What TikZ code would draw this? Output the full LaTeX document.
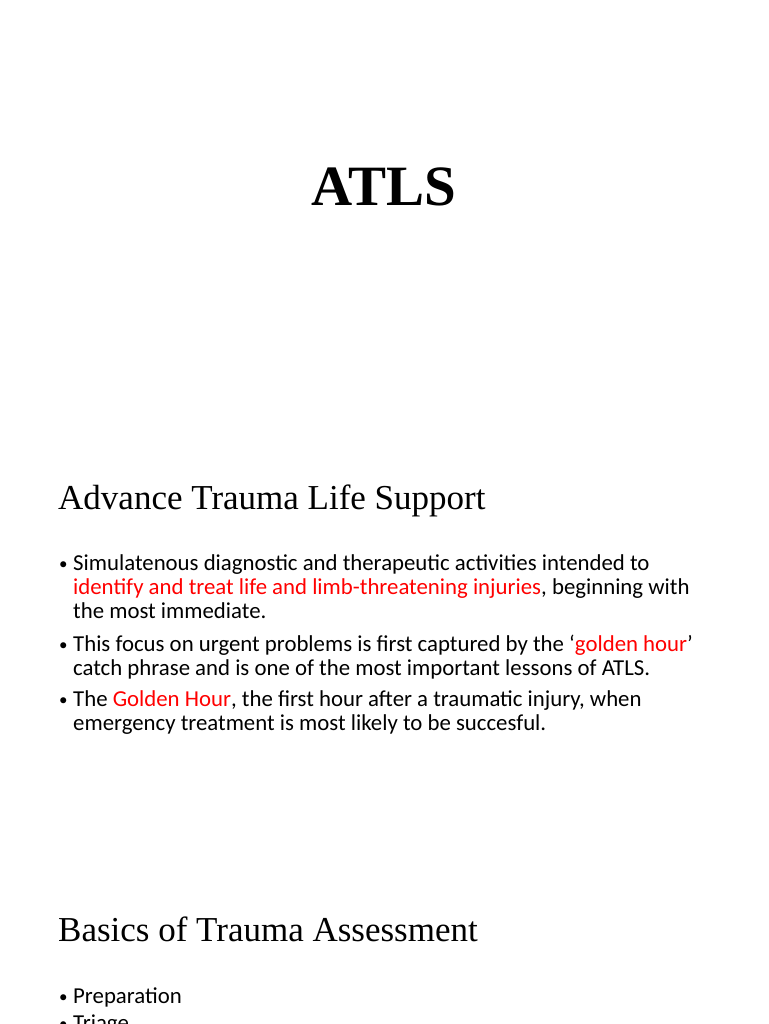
\documentclass[tikz,border=0pt]{standalone}
\usepackage{fontspec}
\setmainfont{Liberation Serif}
\newfontfamily\bodyfont{Carlito}
\definecolor{HiRed}{HTML}{FF0000}
\tikzset{
    heading/.style={anchor=base west, inner sep=0pt, font=\fontsize{35}{42}\selectfont},
    bodyline/.style={anchor=base west, inner sep=0pt, font=\bodyfont\fontsize{22.8}{27}\selectfont},
    bulletmark/.style={anchor=base west, inner sep=0pt, font=\bodyfont\fontsize{17}{20}\selectfont}
}
\newcommand{\hi}[1]{\textcolor{HiRed}{#1}}
\begin{document}
\begin{tikzpicture}[x=1pt, y=-1pt]
    % page
    \useasboundingbox (0,0) rectangle (768,1024);
    \clip (0,0) rectangle (768,1024);
    \fill[white] (0,0) rectangle (768,1024);

    % title
    \node[anchor=base, inner sep=0pt, font=\bfseries\fontsize{57}{66}\selectfont] (title) at (384,206) {ATLS};

    % section 1
    \node[heading] (head1) at (58,509) {Advance Trauma Life Support};
    \node[bulletmark] (b1) at (59,569) {•};
    \node[bodyline] (l1) at (73,570) {Simulatenous diagnostic and therapeutic activities intended to};
    \node[bodyline] (l2) at (73,594) {\hi{identify and treat life and limb-threatening injuries}, beginning with};
    \node[bodyline] (l3) at (73,618) {the most immediate.};
    \node[bulletmark] (b2) at (59,650) {•};
    \node[bodyline] (l4) at (73,651) {This focus on urgent problems is first captured by the ‘\hi{golden hour}’};
    \node[bodyline] (l5) at (73,675) {catch phrase and is one of the most important lessons of ATLS.};
    \node[bulletmark] (b3) at (59,705) {•};
    \node[bodyline] (l6) at (73,706) {The \hi{Golden Hour}, the first hour after a traumatic injury, when};
    \node[bodyline] (l7) at (73,730) {emergency treatment is most likely to be succesful.};

    % section 2
    \node[heading] (head2) at (58,941) {Basics of Trauma Assessment};
    \node[bulletmark] (b4) at (59,1002) {•};
    \node[bodyline] (l8) at (73,1003) {Preparation};
    \node[bulletmark] (b5) at (59,1029) {•};
    \node[bodyline] (l9) at (73,1030) {Triage};
\end{tikzpicture}
\end{document}
